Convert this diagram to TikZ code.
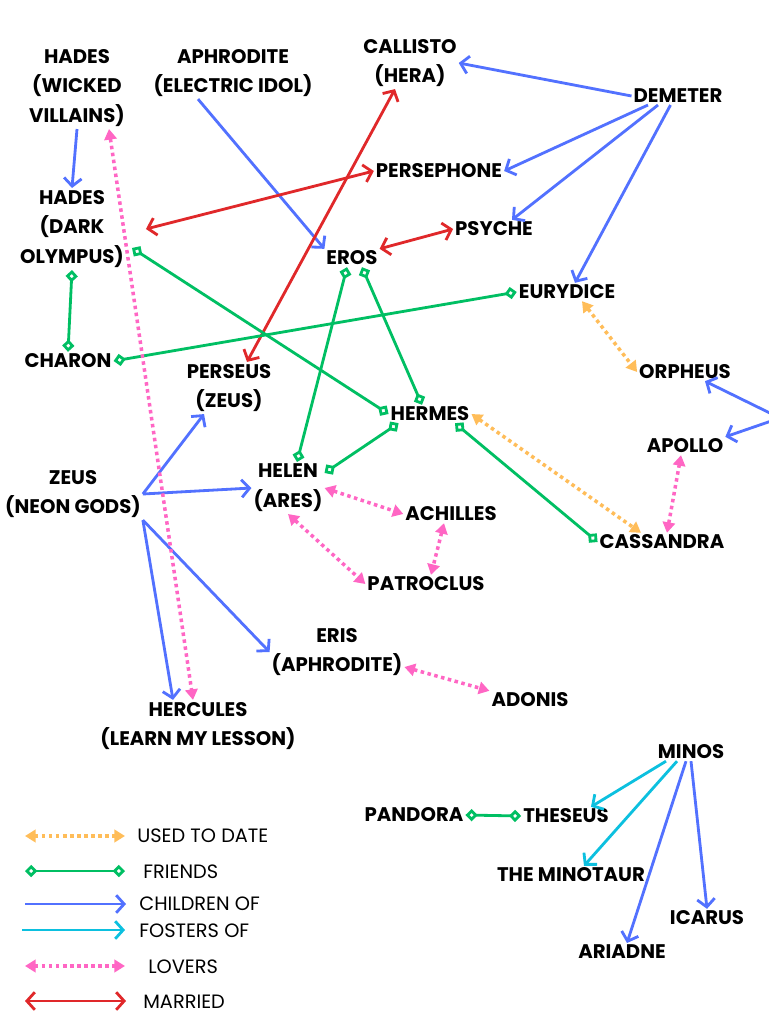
\documentclass[tikz,border=0pt]{standalone}
\usepackage{fontspec}
\setmainfont{Poppins}
\usetikzlibrary{arrows.meta}
\definecolor{cblue}{HTML}{5271FF}
\definecolor{ccyan}{HTML}{0CC0DF}
\definecolor{cgreen}{HTML}{00BF63}
\definecolor{cred}{HTML}{E0282A}
\definecolor{cpink}{HTML}{FF66C4}
\definecolor{corange}{HTML}{FFBD59}
\newcommand{\godfont}{\fontsize{11.2}{17}\selectfont\bfseries}
\newcommand{\keyfont}{\fontsize{11}{12}\selectfont}
\tikzstyle{god} = [align=center, inner sep=1pt, font=\godfont]
\tikzstyle{key} = [anchor=west, inner sep=0pt, font=\keyfont]
\tikzstyle{childof} = [draw=cblue, line width=1.6pt, -{Straight Barb[length=4.5pt,width=10pt]}]
\tikzstyle{fosterof} = [draw=ccyan, line width=1.6pt, -{Straight Barb[length=4.5pt,width=10pt]}]
\tikzstyle{married} = [draw=cred, line width=1.6pt, {Straight Barb[length=4.5pt,width=10pt]}-{Straight Barb[length=4.5pt,width=10pt]}]
\tikzstyle{friends} = [draw=cgreen, line width=1.6pt, {Diamond[open,length=7pt,width=7pt]}-{Diamond[open,length=7pt,width=7pt]}]
\tikzstyle{lovers} = [draw=cpink, line width=2pt, dash pattern=on 2pt off 2pt, {Triangle[length=6pt,width=7pt]}-{Triangle[length=6pt,width=7pt]}]
\tikzstyle{dated} = [draw=corange, line width=2pt, dash pattern=on 2pt off 2pt, {Triangle[length=6pt,width=7pt]}-{Triangle[length=6pt,width=7pt]}]

\begin{document}
\begin{tikzpicture}[x=0.02cm, y=-0.02cm]
\fill [white] (0,0) rectangle (768,1024);
\useasboundingbox (0,0) rectangle (768,1024);

% gods and heroes
\node (hadesw) [god] at (77,88) {HADES\\(WICKED\\VILLAINS)};
\node (aphro) [god] at (233,73) {APHRODITE\\(ELECTRIC IDOL)};
\node (callisto) [god] at (410,63) {CALLISTO\\(HERA)};
\node (demeter) [god] at (678,96) {DEMETER};
\node (hadesd) [god] at (72,229) {HADES\\(DARK\\OLYMPUS)};
\node (persephone) [god] at (439,171) {PERSEPHONE};
\node (psyche) [god] at (494,229) {PSYCHE};
\node (eros) [god] at (352,258) {EROS};
\node (eurydice) [god] at (567,292) {EURYDICE};
\node (charon) [god] at (68,361) {CHARON};
\node (perseus) [god] at (229,388) {PERSEUS\\(ZEUS)};
\node (orpheus) [god] at (685,372) {ORPHEUS};
\node (hermes) [god] at (430,414) {HERMES};
\node (apollo) [god] at (685,446) {APOLLO};
\node (zeus) [god] at (73,494) {ZEUS\\(NEON GODS)};
\node (helen) [god] at (288,488) {HELEN\\(ARES)};
\node (achilles) [god] at (451,514) {ACHILLES};
\node (cassandra) [god] at (662,542) {CASSANDRA};
\node (patroclus) [god] at (426,584) {PATROCLUS};
\node (eris) [god] at (337,652) {ERIS\\(APHRODITE)};
\node (adonis) [god] at (530,700) {ADONIS};
\node (hercules) [god] at (198,726) {HERCULES\\(LEARN MY LESSON)};
\node (minos) [god] at (691,752) {MINOS};
\node (pandora) [god] at (414,815) {PANDORA};
\node (theseus) [god] at (566,816) {THESEUS};
\node (minotaur) [god] at (571,875) {THE MINOTAUR};
\node (icarus) [god] at (707,918) {ICARUS};
\node (ariadne) [god] at (622,952) {ARIADNE};
\coordinate (offpage) at (780,418);

% children of
\draw [childof] (hadesw.south) -- (hadesd.north);
\draw [childof] ([xshift=-0.7cm]aphro.south) -- (eros.north west);
\draw [childof] (demeter.west) -- (callisto.east);
\draw [childof] ([xshift=-0.6cm]demeter.south) -- (persephone.east);
\draw [childof] ([xshift=-0.4cm]demeter.south) -- ([xshift=0.36cm]psyche.north);
\draw [childof] ([xshift=-0.15cm]demeter.south) -- ([xshift=0.16cm]eurydice.north);
\draw [childof] (zeus.east) -- ([xshift=-0.5cm]perseus.south);
\draw [childof] (zeus.east) -- (helen.west);
\draw [childof] (zeus.south east) -- (eris.west);
\draw [childof] (zeus.south east) -- ([xshift=-0.5cm]hercules.north);
\draw [childof] (offpage) -- ([xshift=0.4cm]orpheus.south);
\draw [childof] (offpage) -- (apollo.north east);
\draw [childof] (minos.south) -- (icarus.north);
\draw [childof] ([xshift=-0.1cm]minos.south) -- ([xshift=0.1cm]ariadne.north);

% fosters of
\draw [fosterof] ([xshift=-0.5cm]minos.south) -- ([xshift=0.5cm]theseus.north);
\draw [fosterof] ([xshift=-0.28cm]minos.south) -- ([xshift=0.26cm]minotaur.north);

% married
\draw [married] ([xshift=0.4cm]hadesd.east) -- (persephone.west);
\draw [married] (eros.north east) -- (psyche.west);
\draw [married] ([xshift=-0.3cm]callisto.south) -- ([xshift=0.36cm]perseus.north);

% friends
\draw [friends] ([shift={(0.12cm,-0.38cm)}]hadesd.east) -- (hermes.west);
\draw [friends] (hadesd.south) -- (charon.north);
\draw [friends] (charon.east) -- (eurydice.west);
\draw [friends] ([xshift=-0.1cm]eros.south) -- ([xshift=0.18cm]helen.north);
\draw [friends] ([xshift=0.2cm]eros.south) -- ([xshift=-0.16cm]hermes.north);
\draw [friends] ([yshift=0.3cm]helen.east) -- ([xshift=0.2cm]hermes.south west);
\draw [friends] ([xshift=0.5cm]hermes.south) -- (cassandra.west);
\draw [friends] (pandora.east) -- (theseus.west);

% used to date
\draw [dated] ([xshift=0.3cm]eurydice.south) -- (orpheus.west);
\draw [dated] (hermes.east) -- ([xshift=-0.42cm]cassandra.north);

% lovers
\draw [lovers] ([xshift=0.64cm]hadesw.south) -- ([xshift=-0.1cm]hercules.north);
\draw [lovers] (helen.east) -- (achilles.west);
\draw [lovers] (helen.south) -- (patroclus.west);
\draw [lovers] ([xshift=-0.14cm]achilles.south) -- ([xshift=0.1cm]patroclus.north);
\draw [lovers] ([xshift=0.1cm]cassandra.north) -- ([xshift=-0.08cm]apollo.south);
\draw [lovers] ([yshift=-0.3cm]eris.east) -- (adonis.north west);

% legend
\coordinate (dateA) at (25,836); \coordinate (dateB) at (125,836);
\coordinate (friendA) at (25,871); \coordinate (friendB) at (125,871);
\coordinate (childA) at (25,904); \coordinate (childB) at (126,904);
\coordinate (fosterA) at (22,930); \coordinate (fosterB) at (125,930);
\coordinate (loverA) at (25,966); \coordinate (loverB) at (125,966);
\coordinate (marryA) at (25,1001); \coordinate (marryB) at (126,1001);
\draw [dated] (dateA) -- (dateB);
\draw [friends] (friendA) -- (friendB);
\draw [childof] (childA) -- (childB);
\draw [fosterof] (fosterA) -- (fosterB);
\draw [lovers] (loverA) -- (loverB);
\draw [married] (marryA) -- (marryB);
\node (dateKey) [key] at (137,836) {USED TO DATE};
\node (friendKey) [key] at (143,872) {FRIENDS};
\node (childKey) [key] at (139,904) {CHILDREN OF};
\node (fosterKey) [key] at (139,931) {FOSTERS OF};
\node (loverKey) [key] at (148,967) {LOVERS};
\node (marryKey) [key] at (143,1002) {MARRIED};

\end{tikzpicture}
\end{document}
